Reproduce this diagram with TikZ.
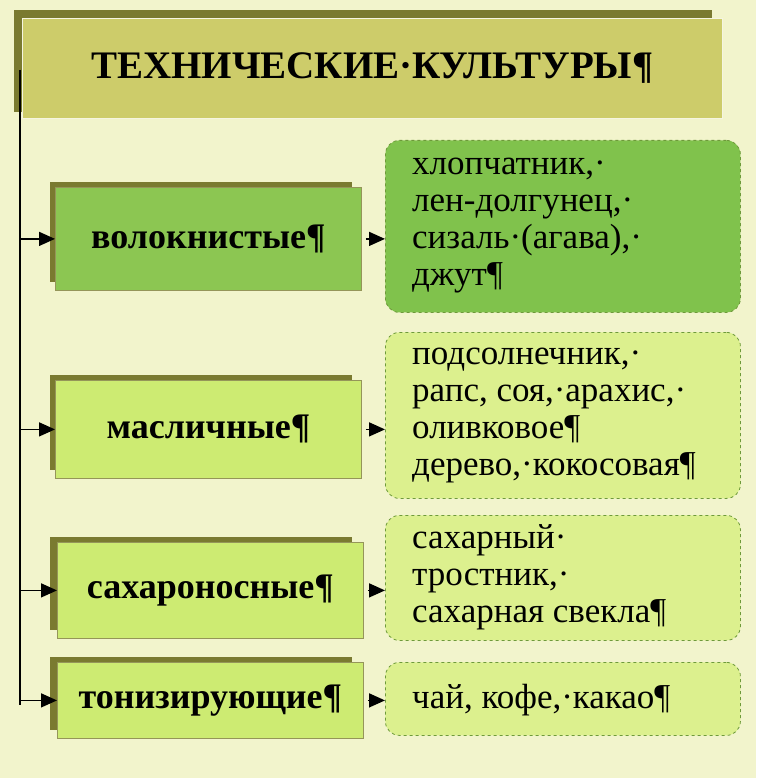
\documentclass[tikz,border=0pt]{standalone}
\usepackage{fontspec}
\setmainfont{Liberation Serif}
\usetikzlibrary{arrows.meta}
\definecolor{bg}{HTML}{F2F4CC}
\definecolor{titlec}{HTML}{CDCC6A}
\definecolor{oliv}{HTML}{7A7A30}
\definecolor{gdark}{HTML}{8CC652}
\definecolor{glight}{HTML}{CDEB72}
\definecolor{rlight}{HTML}{DCF08E}
\definecolor{rdark}{HTML}{80C24C}
\definecolor{rborder}{HTML}{6E9A3A}
\tikzset{
 lbox/.style={draw=oliv!80,line width=0.8pt,minimum width=306pt,anchor=north west,inner sep=0pt,font=\bfseries\fontsize{36}{40}\selectfont},
 rbox/.style={draw=rborder,dashed,line width=0.8pt,rounded corners=14pt,anchor=north west,minimum width=355pt,inner sep=0pt},
 rtext/.style={anchor=west,align=left,font=\fontsize{35}{37}\selectfont,inner sep=0pt},
 arr/.style={-{Triangle[length=16pt,width=14pt]},line width=1.5pt}
}
\begin{document}
\begin{tikzpicture}[x=1pt,y=-1pt]
\fill[bg] (0,0) rectangle (756,778);
\useasboundingbox (0,0) rectangle (756,778);
% title
\fill[oliv] (14,10) rectangle (712,112);
\node[fill=titlec,draw=white!80!titlec,minimum width=700pt,minimum height=100pt,anchor=north west,inner sep=0pt,font=\bfseries\fontsize{39}{42}\selectfont] (t) at (22,18) {ТЕХНИЧЕСКИЕ·КУЛЬТУРЫ¶};
% spine
\coordinate (s0) at (20,70);
\coordinate (s1) at (20,705);
\draw[line width=1.5pt] (s0) -- (s1);
% left boxes
\foreach \y/\h in {185/103,378/98,540/96,660/76}{
  \fill[oliv] (50,\y-3) rectangle (352,\y+\h-6);
}
\node[lbox,fill=gdark,minimum height=103pt] (a) at (55,187) {волокнистые¶};
\node[lbox,fill=glight,minimum height=98pt] (b) at (55,380) {масличные¶};
\node[lbox,fill=glight,minimum height=96pt] (c) at (57,542) {сахароносные¶};
\node[lbox,fill=glight,minimum height=76pt] (d) at (57,662) {тонизирующие¶};
% right boxes
\node[rbox,fill=rdark,minimum height=172pt] (ra) at (385,140) {};
\node[rbox,fill=rlight,minimum height=166pt] (rb) at (385,332) {};
\node[rbox,fill=rlight,minimum height=125pt] (rc) at (385,515) {};
\node[rbox,fill=rlight,minimum height=73pt] (rd) at (385,662) {};
\node[rtext] (ta) at (412,226) {хлопчатник,·\\лен-долгунец,·\\сизаль·(агава),·\\джут¶};
\node[rtext] (tb) at (412,415) {подсолнечник,·\\рапс, соя,·арахис,·\\оливковое¶\\дерево,·кокосовая¶};
\node[rtext] (tc) at (412,577) {сахарный·\\тростник,·\\сахарная свекла¶};
\node[rtext] (td) at (412,700) {чай, кофе,·какао¶};
% arrows
\foreach \n in {a,b,c,d}{
  \draw[arr] (s0 |- \n.west) -- (\n.west);
  \draw[arr] (\n.east) ++(4,0) coordinate (e\n) -- (e\n -| r\n.west);
}
\end{tikzpicture}
\end{document}
